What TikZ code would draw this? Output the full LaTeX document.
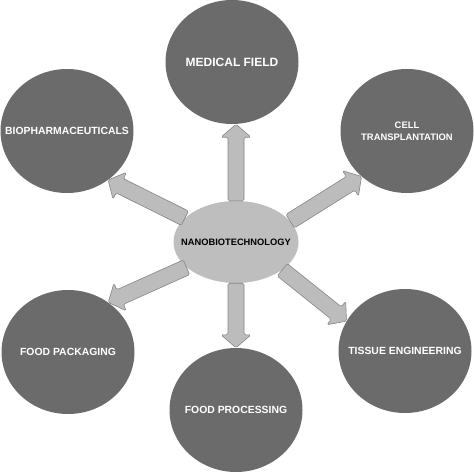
\documentclass[tikz,border=0pt]{standalone}
\usepackage{fontspec}
\setmainfont{Liberation Sans}
\usetikzlibrary{calc,shapes.geometric}
\definecolor{circ}{HTML}{6B6B6B}
\definecolor{cent}{HTML}{BEBEBE}
\definecolor{arrf}{HTML}{BCBCBC}
\definecolor{arrd}{HTML}{858585}
\newcommand{\blockarr}[2]{%
  \coordinate (H) at ($(#2)!13pt!(#1)$);
  \draw[arrowstyle]
    ($(#1)!8pt!90:(#2)$) -- ($(H)!8pt!90:(#2)$) -- ($(H)!15pt!90:(#2)$)
    -- (#2) -- ($(H)!15pt!-90:(#2)$) -- ($(H)!8pt!-90:(#2)$)
    -- ($(#1)!8pt!-90:(#2)$) -- cycle;
}
\begin{document}
\begin{tikzpicture}[x=1pt,y=-1pt,
  disc/.style={ellipse,fill=circ,minimum width=133pt,minimum height=124pt,inner sep=0pt},
  topic/.style={disc,label={[topictext]center:#1}},
  topictext/.style={text=white,font=\bfseries\fontsize{10.4}{12.5}\selectfont,align=center},
  bigtext/.style={font=\bfseries\fontsize{12}{14}\selectfont},
  smalltext/.style={font=\bfseries\fontsize{9.4}{12}\selectfont},
  hub/.style={ellipse,fill=cent,minimum width=125pt,minimum height=82pt,inner sep=0pt,
    label={[hubtext]center:#1}},
  hubtext/.style={text=black,font=\bfseries\fontsize{9.3}{11.5}\selectfont},
  arrowstyle/.style={fill=arrf,draw=arrd,line width=0.6pt,line join=round,rounded corners=1.5pt}]
\useasboundingbox (0,0) rectangle (474,474);
\node[disc,label={[topictext,bigtext]center:MEDICAL FIELD}] (med) at (232,62) {};
\node[topic={BIOPHARMACEUTICALS}] (bio) at (67,131) {};
\node[disc,label={[topictext,smalltext]center:CELL\\TRANSPLANTATION}] (cell) at (407,131) {};
\node[topic={FOOD PACKAGING}] (pack) at (68,352) {};
\node[topic={FOOD PROCESSING}] (proc) at (236,410) {};
\node[topic={TISSUE ENGINEERING}] (tis) at (405,351) {};
\node[hub={NANOBIOTECHNOLOGY}] (c) at (236,242) {};
\coordinate (upend) at (c.north |- med.south);
\coordinate (downend) at (c.south |- proc.north);
\blockarr{c.north}{upend}
\blockarr{c.south}{downend}
\blockarr{c.155}{bio.-50}
\blockarr{c.21}{cell.-135}
\blockarr{c.207}{pack.51}
\blockarr{c.-31}{tis.153}
\end{tikzpicture}
\end{document}
